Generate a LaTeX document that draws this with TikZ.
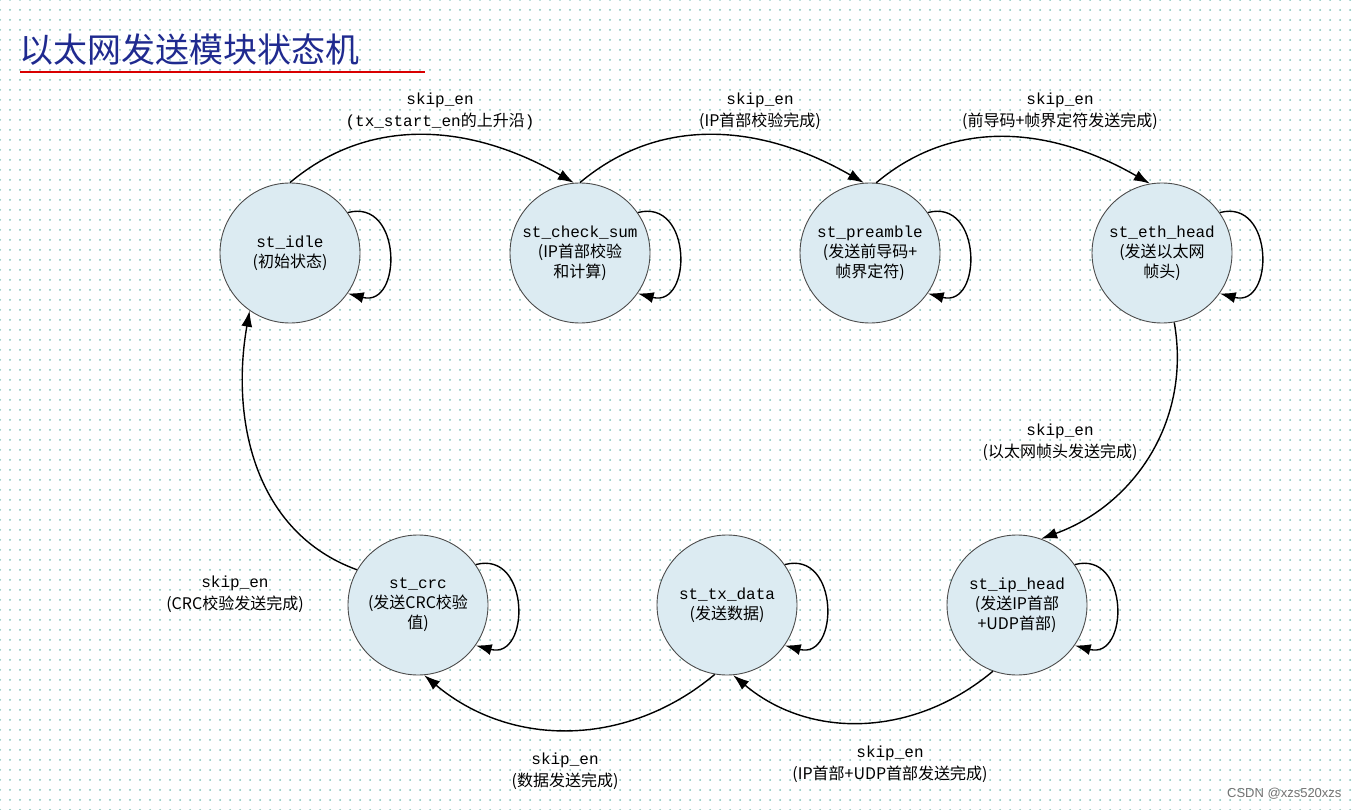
\documentclass[tikz,border=0pt]{standalone}
\usepackage{fontspec}
\setmainfont{Liberation Mono}
\newfontfamily\cjk{Noto Sans CJK SC}
\newfontfamily\wm{Liberation Sans}
\usetikzlibrary{patterns.meta,arrows.meta}
\definecolor{dotc}{HTML}{7CC2BA}
\definecolor{nodefill}{HTML}{DCEBF2}
\definecolor{titleblue}{HTML}{1F2A8F}
\tikzset{
  st/.style={circle,draw=black!70,line width=0.9pt,fill=nodefill,minimum size=140pt,inner sep=0pt,align=center,font=\fontsize{16}{20}\selectfont},
  tr/.style={-{Latex[length=16pt,width=11pt]},line width=1.4pt},
  lbl/.style={align=center,font=\fontsize{16}{22}\selectfont},
}
\begin{document}
\begin{tikzpicture}[x=1pt,y=-1pt]
\fill[white] (0,0) rectangle (1359,810);
\fill[pattern={Dots[distance=10pt,radius=1pt]},pattern color=dotc] (0,0) rectangle (1359,810);
\useasboundingbox (0,0) rectangle (1359,810);
\node[anchor=west,text=titleblue,font=\cjk\fontsize{34}{38}\selectfont] (title) at (16,50) {以太网发送模块状态机};
\draw[red!85!black,line width=1.8pt] (20,72) -- (425,72);

\node[st] (idle) at (290,253) {st\_idle\\{\cjk (初始状态)}};
\node[st] (cs) at (580,253) {st\_check\_sum\\{\cjk (IP首部校验}\\{\cjk 和计算)}};
\node[st] (pre) at (870,253) {st\_preamble\\{\cjk (发送前导码+}\\{\cjk 帧界定符)}};
\node[st] (eth) at (1162,253) {st\_eth\_head\\{\cjk (发送以太网}\\{\cjk 帧头)}};
\node[st] (ip) at (1017,605) {st\_ip\_head\\{\cjk (发送IP首部}\\{\cjk +UDP首部)}};
\node[st] (tx) at (727,605) {st\_tx\_data\\{\cjk (发送数据)}};
\node[st] (crc) at (418,605) {st\_crc\\{\cjk (发送CRC校验}\\{\cjk 值)}};

\foreach \n in {idle,cs,pre,eth,ip,tx,crc}{
  \draw[tr] (\n.35) to[out=15,in=-15,looseness=1.8] (\n.-35);
}

\draw[tr] (idle.north) to[out=40,in=150] (cs.95);
\draw[tr] (cs.north) to[out=40,in=150] (pre.95);
\draw[tr] (pre.85) to[out=40,in=150] (eth.100);
\draw[tr] (eth.-80) to[out=-80,in=20] (ip.70);
\draw[tr] (ip.-110) to[out=-140,in=-40] (tx.-85);
\draw[tr] (tx.-100) to[out=-140,in=-40] (crc.-85);
\draw[tr] (crc.150) to[out=160,in=-100] (idle.-125);

\node[lbl] (l1) at (440,111) {skip\_en\\(tx\_start\_en{\cjk 的上升沿})};
\node[lbl] (l2) at (760,111) {skip\_en\\{\cjk (IP首部校验完成)}};
\node[lbl] (l3) at (1060,111) {skip\_en\\{\cjk (前导码+帧界定符发送完成)}};
\node[lbl] (l4) at (1060,442) {skip\_en\\{\cjk (以太网帧头发送完成)}};
\node[lbl] (l5) at (890,764) {skip\_en\\{\cjk (IP首部+UDP首部发送完成)}};
\node[lbl] (l6) at (565,771) {skip\_en\\{\cjk (数据发送完成)}};
\node[lbl] (l7) at (235,594) {skip\_en\\{\cjk (CRC校验发送完成)}};

\node[anchor=east,text=black!55,font=\wm\fontsize{13}{15}\selectfont] (wmk) at (1345,794) {CSDN @xzs520xzs};
\end{tikzpicture}
\end{document}
